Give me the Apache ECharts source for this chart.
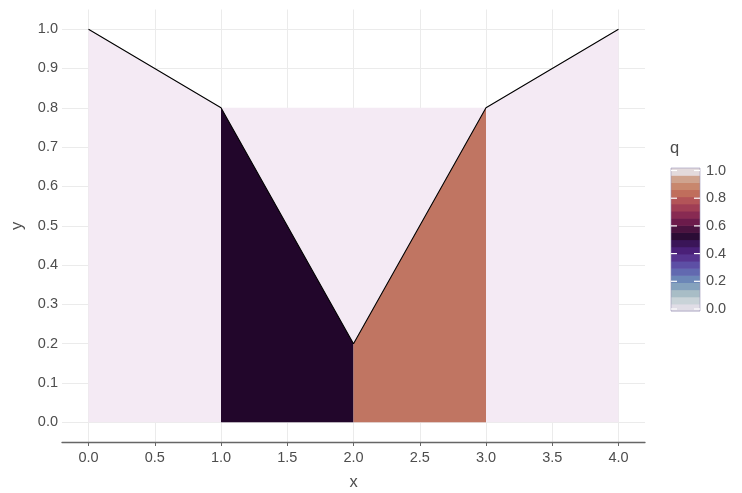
<!DOCTYPE html>
<html><head><meta charset="utf-8">
<script src="https://cdn.jsdelivr.net/npm/echarts@6/dist/echarts.min.js"></script>
<style>html,body{margin:0;padding:0;background:#fff}#c{width:742px;height:493px}</style>
</head><body><div id="c"></div>
<script>
// data
const curveX = [0, 1, 2, 3, 4];
const curveY = [1.0, 0.8, 0.2, 0.8, 1.0];
const plateauY = 0.8;           // light band height between x=1 and x=3
const segLight = '#f4eaf4';
const segDark = '#22062b';
const segBrown = '#c07562';
const xTicks = [0, 0.5, 1, 1.5, 2, 2.5, 3, 3.5, 4];
const yTicks = [0, 0.1, 0.2, 0.3, 0.4, 0.5, 0.6, 0.7, 0.8, 0.9, 1.0];
const legendTicks = [0, 0.2, 0.4, 0.6, 0.8, 1.0];
// colorbar bands, bottom (q=0) to top (q=1)
const legendColors = ['#e0dde6','#c9d3d8','#a8bdc6','#85a2bd','#6c87b7','#6269b0','#5d4fa5','#56348f','#4a2078','#3a1558',
                      '#2b0c35','#4a1340','#6c1b4b','#882a52','#a03e55','#b35458','#c06e5c','#c8876d','#cfa38e','#e3dadc'];

const pts = curveX.map((x, i) => [x, curveY[i]]);
const txt = '#4d4d4d';
const font = 'Liberation Sans, Arial, sans-serif';

function area(data, color, z) {
  return { type: 'line', data, symbol: 'none', silent: true, z,
    lineStyle: { width: 0, opacity: 0 },
    areaStyle: { color, opacity: 1, origin: 0 } };
}

const series = [
  area([pts[0], pts[1]], segLight, 1),
  area([[curveX[1], plateauY], [curveX[3], plateauY]], segLight, 1),
  area([pts[3], pts[4]], segLight, 1),
  area([pts[1], pts[2]], segDark, 2),
  area([pts[2], pts[3]], segBrown, 2),
  { type: 'line', data: pts, symbol: 'none', silent: true, z: 3,
    lineStyle: { color: '#000', width: 1.1 } }
];

// colorbar legend built from arrays
const barX = 671, barW = 29, barTop = 168, barBot = 311;
const v0 = 309, v1 = 170.5;
const bandH = (barBot - barTop) / legendColors.length;
const gfx = [];
legendColors.forEach((c, i) => {
  gfx.push({ type: 'rect', shape: { x: barX, y: barBot - (i + 1) * bandH, width: barW, height: bandH + 0.6 },
    style: { fill: c } });
});
gfx.push({ type: 'rect', shape: { x: barX, y: barTop, width: barW, height: barBot - barTop },
  style: { fill: 'none', stroke: '#9a96b8', lineWidth: 0.6 } });
legendTicks.forEach(v => {
  const y = v0 + (v1 - v0) * v;
  gfx.push({ type: 'line', shape: { x1: barX, y1: y, x2: barX + 6, y2: y }, style: { stroke: '#fff', lineWidth: 1.2 } });
  gfx.push({ type: 'line', shape: { x1: barX + barW - 6, y1: y, x2: barX + barW, y2: y }, style: { stroke: '#fff', lineWidth: 1.2 } });
  gfx.push({ type: 'text', x: 706, y: y, style: { text: v.toFixed(1), fill: txt, font: '14.5px ' + font, textVerticalAlign: 'middle' } });
});
gfx.push({ type: 'text', x: 670, y: 148, style: { text: 'q', fill: txt, font: '16.5px ' + font, textVerticalAlign: 'middle' } });

const chart = echarts.init(document.getElementById('c'), null, { renderer: 'canvas' });
chart.setOption({
  animation: false,
  backgroundColor: '#fff',
  grid: { left: 62, right: 97, top: 9.5, bottom: 51, containLabel: false, outerBoundsMode: 'none' },
  xAxis: {
    type: 'value', min: -0.2, max: 4.2,
    name: 'x', nameLocation: 'middle', nameGap: 32,
    nameTextStyle: { color: txt, fontSize: 16.5, fontFamily: font },
    axisLine: { show: true, onZero: false, lineStyle: { color: '#666', width: 1.3 } },
    axisTick: { show: true, length: 4, lineStyle: { color: '#666' }, customValues: xTicks },
    axisLabel: { color: txt, fontSize: 14.5, fontFamily: font, margin: 8, customValues: xTicks,
      formatter: v => v.toFixed(1) },
    splitLine: { show: true, lineStyle: { color: '#ebebeb', width: 1 } }
  },
  yAxis: {
    type: 'value', min: -0.05, max: 1.05,
    name: 'y', nameLocation: 'middle', nameGap: 36, nameRotate: 90,
    nameTextStyle: { color: txt, fontSize: 16.5, fontFamily: font },
    axisLine: { show: false, onZero: false },
    axisTick: { show: false, customValues: yTicks },
    axisLabel: { color: txt, fontSize: 14.5, fontFamily: font, margin: 4, customValues: yTicks,
      formatter: v => v.toFixed(1) },
    splitLine: { show: true, lineStyle: { color: '#ebebeb', width: 1 } }
  },
  series,
  graphic: gfx
});
</script></body></html>
